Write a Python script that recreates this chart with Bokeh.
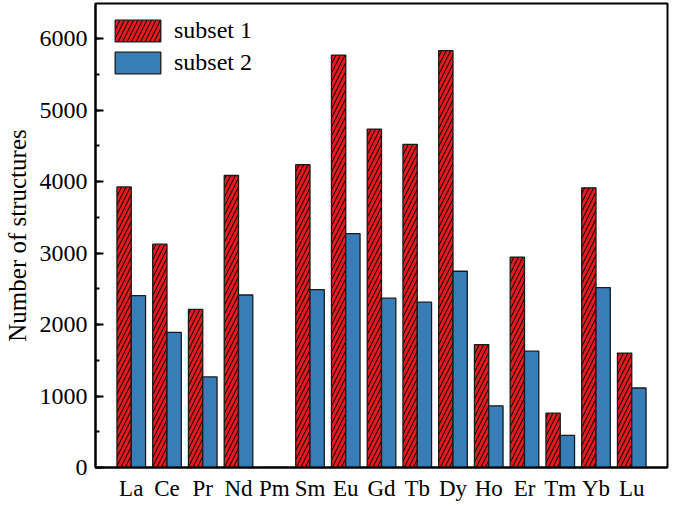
from bokeh.plotting import figure
from bokeh.models import ColumnDataSource, FactorRange, Range1d, Legend, LegendItem, SingleIntervalTicker
from bokeh.transform import dodge
from bokeh.embed import file_html
from bokeh.resources import INLINE

elements = ["La", "Ce", "Pr", "Nd", "Pm", "Sm", "Eu", "Gd", "Tb", "Dy", "Ho", "Er", "Tm", "Yb", "Lu"]
subset1 = [3924, 3124, 2213, 4084, 0, 4236, 5769, 4733, 4520, 5832, 1720, 2943, 760, 3912, 1600]
subset2 = [2405, 1889, 1267, 2413, 0, 2489, 3272, 2369, 2312, 2745, 863, 1627, 449, 2516, 1112]

src = ColumnDataSource(dict(el=elements, s1=subset1, s2=subset2))

FONT = "Liberation Serif"

p = figure(width=669, height=503, output_backend="svg", toolbar_location=None,
           x_range=FactorRange(factors=elements, range_padding=0.5, range_padding_units="absolute"),
           y_range=Range1d(0, 6490),
           min_border_left=4, min_border_right=2, min_border_top=3, min_border_bottom=2)

r1 = p.vbar(x=dodge("el", -0.2, range=p.x_range), top="s1", width=0.4, source=src,
            fill_color="#E41A1C", line_color="#1a1a1a", line_width=1.3,
            hatch_pattern="/", hatch_color="black", hatch_weight=1.0, hatch_scale=9)
r2 = p.vbar(x=dodge("el", 0.2, range=p.x_range), top="s2", width=0.4, source=src,
            fill_color="#377EB8", line_color="#1a1a1a", line_width=1.3)

legend = Legend(items=[LegendItem(label="subset 1", renderers=[r1]),
                       LegendItem(label="subset 2", renderers=[r2])],
                location="top_left", glyph_width=57, glyph_height=27, spacing=5,
                label_standoff=8, margin=14, padding=0,
                border_line_color=None, background_fill_alpha=0,
                label_text_font=FONT, label_text_font_size="24px", label_text_color="black")
p.add_layout(legend)

p.grid.visible = False
p.outline_line_color = "black"
p.outline_line_width = 2

p.yaxis.ticker = SingleIntervalTicker(interval=1000, num_minor_ticks=2)
p.yaxis.axis_label = "Number of structures"
p.yaxis.axis_label_text_font = FONT
p.yaxis.axis_label_text_font_size = "25px"
p.yaxis.axis_label_text_font_style = "normal"
p.yaxis.axis_label_text_color = "black"
p.yaxis.axis_label_standoff = 6
p.yaxis.major_label_text_font = FONT
p.yaxis.major_label_text_font_size = "24px"
p.yaxis.major_label_text_color = "black"
p.yaxis.major_label_standoff = 8
p.yaxis.major_tick_in = 8
p.yaxis.major_tick_out = 0
p.yaxis.minor_tick_in = 4
p.yaxis.minor_tick_out = 0
p.yaxis.axis_line_width = 2
p.yaxis.axis_line_color = "black"
p.yaxis.major_tick_line_width = 2
p.yaxis.minor_tick_line_width = 2
p.yaxis.major_tick_line_color = "black"
p.yaxis.minor_tick_line_color = "black"

p.xaxis.major_label_text_font = FONT
p.xaxis.major_label_text_font_size = "23px"
p.xaxis.major_label_text_color = "black"
p.xaxis.major_tick_line_color = None
p.xaxis.minor_tick_line_color = None
p.xaxis.major_tick_in = 0
p.xaxis.major_tick_out = 0
p.xaxis.minor_tick_in = 0
p.xaxis.minor_tick_out = 0
p.xaxis.axis_line_width = 2
p.xaxis.axis_line_color = "black"
p.xaxis.major_label_standoff = 8

open("out.html", "w").write(file_html(p, INLINE))
